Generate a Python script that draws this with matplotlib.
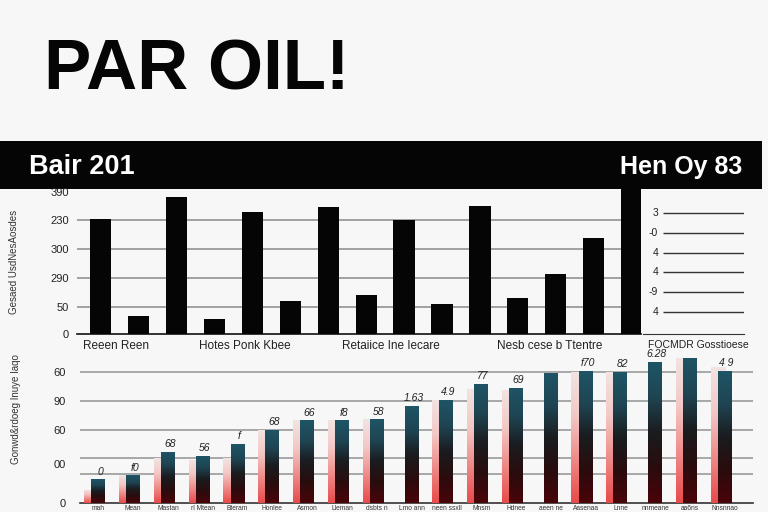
import matplotlib
matplotlib.use("Agg")
import matplotlib.pyplot as plt
import numpy as np
from matplotlib.colors import LinearSegmentedColormap

# ---------------- data ----------------
title = "PAR OIL!"
band_left = "Bair 201"
band_right = "Hen Oy 83"

top_values = [198, 31, 236, 26, 210, 57, 219, 67, 197, 52, 221, 62, 103, 166, 260]
top_ticks = [0, 47, 97, 147, 197, 245]
top_tick_labels = ["0", "50", "290", "300", "230", "390"]
top_ylabel = "Gesaed UsdNesAosdes"
group_labels = ["Reeen Reen", "Hotes Ponk Kbee", "Retaiice Ine Iecare",
                "Nesb cese b Ttentre"]
group_centers = [0.4, 3.8, 7.65, 11.85]
side_title = "FOCMDR Gosstioese"
side_labels = ["3", "-0", "4", "4", "-9", "4"]

dark_values = [18, 21, 39, 36, 45, 56, 63, 63, 64, 74, 79, 91, 88, 99, 101, 100, 108, 111, 101]
pink_values = [10, 21, 34, 33, 34, 56, 63, 63, 64, 0, 79, 87, 86, 0, 100, 100, 0, 111, 104]
bar_labels = ["0", "f0", "68", "56", "f", "68", "66", "f8", "58", "1.63", "4.9",
              "77", "69", "", "f70", "82", "6.28", "", "4 9"]
bottom_ticks = [0, 30, 56, 78, 100]
bottom_tick_labels = ["0", "00", "60", "90", "60"]
bottom_grid = [22, 34, 56, 78, 100]
bottom_ylabel = "Gonwd&rdoeg Inuye Iaqo"
bottom_xlabels = ["mah", "Mean", "Mastan", "rl Mtean", "Bteram", "Honlee", "Asmon",
                  "Lleman", "dsbts n", "Lmo ann", "neen ssxll", "Mnsm", "Hdnee",
                  "aeen ne", "Aasenaa", "Lnne", "nnmeane", "aa6ns", "Nnsnnao"]

BG = "#f7f7f7"
FONT = "Liberation Sans"

fig = plt.figure(figsize=(7.68, 5.12), dpi=100, facecolor=BG)

def fx(px):
    return px / 768.0

def fy(py):
    return 1 - py / 512.0

# title
fig.text(fx(44), fy(89), title, fontsize=51, fontweight="bold", family=FONT,
         color="#050505", ha="left", va="baseline")

# black band
band = fig.add_axes([0, fy(189), fx(762), (189 - 141) / 512.0])
band.set_facecolor("#050505")
band.set_xticks([]); band.set_yticks([])
for s in band.spines.values():
    s.set_visible(False)
band.text(0.038, 0.45, band_left, transform=band.transAxes, color="white",
          fontsize=19.5, fontweight="bold", family=FONT, ha="left", va="center")
band.text(0.974, 0.45, band_right, transform=band.transAxes, color="white",
          fontsize=18, fontweight="bold", family=FONT, ha="right", va="center")

# ---------------- top chart ----------------
ax1 = fig.add_axes([fx(77), fy(334), fx(641 - 77), (334 - 189) / 512.0])
ax1.set_facecolor(BG)
x1 = np.arange(len(top_values))
ax1.bar(x1, top_values, width=0.56, color="#050505", zorder=3)
ax1.set_xlim(-0.63, 14.25)
ax1.set_ylim(0, 250)
ax1.set_yticks(top_ticks)
ax1.set_yticklabels(top_tick_labels, fontsize=8, color="#222222", family=FONT)
ax1.tick_params(axis="y", length=0, pad=6)
ax1.set_xticks([])
for v in top_ticks[1:-1]:
    ax1.axhline(v, color="#9a9a9a", lw=1.3, zorder=1)
for s in ["top", "right", "left"]:
    ax1.spines[s].set_visible(False)
ax1.spines["bottom"].set_color("#111111")
ax1.spines["bottom"].set_linewidth(1.2)
ax1.set_ylabel(top_ylabel, fontsize=7, color="#333333", family=FONT)
ax1.yaxis.set_label_coords(-0.103, 0.5)
for lab, c in zip(group_labels, group_centers):
    ax1.text(c, -0.04, lab, transform=ax1.get_xaxis_transform(), fontsize=8.5,
             color="#222222", family=FONT, ha="center", va="top")

# side panel
axs = fig.add_axes([fx(643), fy(334), fx(744 - 643), (334 - 189) / 512.0])
axs.set_facecolor(BG)
axs.set_ylim(-1.1, 6.2)
axs.set_xlim(0, 1)
ys = np.arange(len(side_labels))[::-1]
axs.hlines(ys, 0.2, 1.0, color="#333333", lw=1.0)
for lab, y in zip(side_labels, ys):
    axs.text(0.15, y, lab, fontsize=7.5, color="#222222", family=FONT,
             ha="right", va="center")
axs.set_xticks([]); axs.set_yticks([])
for s in ["top", "right", "left"]:
    axs.spines[s].set_visible(False)
axs.spines["bottom"].set_color("#333333")
axs.text(0.55, -0.04, side_title, transform=axs.transAxes, fontsize=7.5,
         color="#222222", family=FONT, ha="center", va="top")

# ---------------- bottom chart ----------------
ax2 = fig.add_axes([fx(80), fy(503), fx(753 - 80), (503 - 352) / 512.0])
ax2.set_facecolor(BG)
n = len(dark_values)
x2 = np.arange(n)
ax2.set_xlim(-0.53, 18.81)
ax2.set_ylim(0, 115.3)

dark_cmap = LinearSegmentedColormap.from_list(
    "dark", ["#4a0408", "#2a0c0e", "#1a1c1f", "#1f4553", "#1e5566"])
pink_cmap = LinearSegmentedColormap.from_list(
    "pink", ["#e84a4a", "#ee8a88", "#f3c8c6", "#f1e4e2"])
grad = np.linspace(0, 1, 256).reshape(-1, 1)

pink_bars = ax2.bar(x2 - 0.2, pink_values, width=0.42, color="none", zorder=3)
dark_bars = ax2.bar(x2 + 0.0, dark_values, width=0.40, color="none", zorder=4)

def fill_gradient(bars, cmap, z):
    for b in bars:
        h = b.get_height()
        if h <= 0:
            continue
        x0 = b.get_x(); w = b.get_width()
        im = ax2.imshow(grad, cmap=cmap, aspect="auto", origin="lower",
                        extent=[x0, x0 + w, 0, h], zorder=z)
        im.set_clip_path(b)

fill_gradient(pink_bars, pink_cmap, 3)
fill_gradient(dark_bars, dark_cmap, 4)

for xi, v, lab in zip(x2, dark_values, bar_labels):
    if lab:
        ax2.text(xi + 0.05, v + 2, lab, fontsize=7.5, style="italic",
                 color="#222222", family=FONT, ha="center", va="bottom", zorder=6)

for g in bottom_grid:
    ax2.axhline(g, color="#9a9a9a", lw=1.2, zorder=1)
ax2.set_yticks(bottom_ticks)
ax2.set_yticklabels(bottom_tick_labels, fontsize=8, color="#222222", family=FONT)
ax2.tick_params(axis="y", length=0, pad=10)
ax2.set_xticks(x2)
ax2.set_xticklabels(bottom_xlabels, fontsize=4.8, color="#333333", family=FONT)
ax2.tick_params(axis="x", length=0, pad=1.2)
for s in ["top", "right", "left"]:
    ax2.spines[s].set_visible(False)
ax2.spines["bottom"].set_color("#333333")
ax2.spines["bottom"].set_linewidth(1.2)
ax2.set_ylabel(bottom_ylabel, fontsize=7, color="#333333", family=FONT)
ax2.yaxis.set_label_coords(-0.088, 0.62)

fig.savefig("out.png", dpi=100, facecolor=BG)
